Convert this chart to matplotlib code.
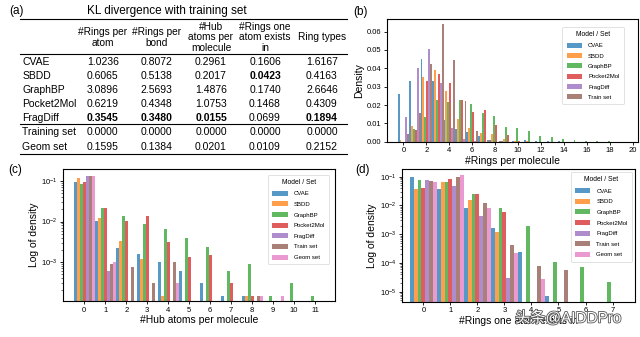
import numpy as np
import matplotlib
matplotlib.use('Agg')
import matplotlib.pyplot as plt
import matplotlib.patheffects as pe
from matplotlib.lines import Line2D
from matplotlib.patches import Patch

plt.rcParams['font.family'] = ['Liberation Sans', 'Noto Sans CJK SC', 'DejaVu Sans']

W, H = 640, 337
TICK_FS = 5.5
LABEL_FS = 7.5
LEG_FS = 4.3

# ---- (a) KL divergence table ----
table_cols = ["#Rings per\natom", "#Rings per\nbond", "#Hub\natoms per\nmolecule",
              "#Rings one\natom exists\nin", "Ring types"]
table_rows = ["CVAE", "SBDD", "GraphBP", "Pocket2Mol", "FragDiff", "Training set", "Geom set"]
table_vals = [
    ["1.0236", "0.8072", "0.2961", "0.1606", "1.6167"],
    ["0.6065", "0.5138", "0.2017", "0.0423", "0.4163"],
    ["3.0896", "2.5693", "1.4876", "0.1740", "2.6646"],
    ["0.6219", "0.4348", "1.0753", "0.1468", "0.4309"],
    ["0.3545", "0.3480", "0.0155", "0.0699", "0.1894"],
    ["0.0000", "0.0000", "0.0000", "0.0000", "0.0000"],
    ["0.1595", "0.1384", "0.0201", "0.0109", "0.2152"],
]
table_bold = [(1, 3), (4, 0), (4, 1), (4, 2), (4, 4)]

# ---- (b) #Rings per molecule ----
rings_x = np.arange(0, 21)
rings_cvae = [0.026, 0.033, 0.045, 0.033, 0.012, 0.0068, 0.0052, 0.003, 0.0008, 0.0005, 0.0003,
              0.0007, 0.0002, 0.0002, 0.0002, 0.0001, 0.0001, 0, 0, 0, 0]
rings_sbdd = [0.001, 0.0085, 0.0355, 0.039, 0.0277, 0.0125, 0.0075, 0.0045, 0.0042, 0.0015, 0.0005,
              0.0002, 0.0001, 0, 0, 0, 0, 0, 0, 0, 0]
rings_graphbp = [0.0, 0.007, 0.0135, 0.023, 0.0217, 0.0227, 0.0205, 0.0158, 0.014, 0.0078, 0.0072,
                 0.006, 0.0033, 0.0027, 0.0015, 0.0011, 0.0005, 0.0003, 0.0002, 0.0001, 0.0001]
rings_p2m = [0.0, 0.0065, 0.033, 0.037, 0.032, 0.0227, 0.016, 0.0172, 0.0093, 0.0036, 0.0005,
             0.0001, 0, 0, 0, 0, 0, 0, 0, 0, 0]
rings_fragdiff = [0.0136, 0.040, 0.0506, 0.032, 0.0075, 0.0015, 0.0005, 0.0001, 0, 0, 0,
                  0, 0, 0, 0, 0, 0, 0, 0, 0, 0]
rings_train = [0.004, 0.0155, 0.0422, 0.064, 0.0446, 0.022, 0.0058, 0.001, 0.0002, 0, 0,
               0, 0, 0, 0, 0, 0, 0, 0, 0, 0]

# ---- (c) #Hub atoms per molecule ----
hub_x = np.arange(0, 12)
hub_cvae = [0.096, 0.0104, 0.0022, 0.0016, 0.00103, 0.00059, 0.00031, 0.00015, 0.00015, 0, 0, 0]
hub_sbdd = [0.116, 0.0125, 0.0034, 0.0012, 0.00015, 0, 0, 0, 0.00015, 0, 0, 0]
hub_graphbp = [0.084, 0.0213, 0.0138, 0.0086, 0.0065, 0.0039, 0.00235, 0.00059, 0.00091,
               0.00015, 0.00031, 0.00015]
hub_p2m = [0.093, 0.0213, 0.0104, 0.0138, 0.0032, 0.00135, 0.0015, 0.00031, 0.00015, 0, 0, 0]
hub_fragdiff = [0.135, 0.00059, 0, 0, 0, 0, 0, 0, 0, 0, 0, 0]
hub_train = [0.135, 0.00089, 0.00074, 0.00031, 0.00103, 0, 0, 0, 0.00015, 0, 0, 0]
hub_geom = [0.135, 0.00103, 0, 0, 0.00031, 0, 0, 0, 0.00015, 0.00015, 0, 0]

# ---- (d) #Rings one atom exists in ----
ringatom_x = np.arange(0, 8)
ringatom_cvae = [0.095, 0.037, 0.0079, 0.0016, 0.00025, 7.2e-6, 0, 0]
ringatom_sbdd = [0.037, 0.067, 0.0155, 0.00117, 0, 0, 0, 0]
ringatom_graphbp = [0.077, 0.067, 0.025, 0.0079, 0.0019, 0.00011, 7e-5, 2.1e-5]
ringatom_p2m = [0.041, 0.083, 0.025, 0.0061, 0, 0, 0, 0]
ringatom_fragdiff = [0.077, 0.049, 0.0044, 2.9e-5, 0, 0, 0, 0]
ringatom_train = [0.073, 0.095, 0.0119, 0.00042, 8e-5, 5.7e-5, 0, 0]
ringatom_geom = [0.067, 0.115, 0.0079, 0.00023, 2.8e-5, 0, 0, 0]

names = ["CVAE", "SBDD", "GraphBP", "Pocket2Mol", "FragDiff", "Train set", "Geom set"]
COLORS = ['#1f77b4', '#ff7f0e', '#2ca02c', '#d62728', '#9467bd', '#8c564b', '#e377c2']
ALPHA = 0.75


def px_rect(left, top, right, bottom):
    return [left / W, 1 - bottom / H, (right - left) / W, (bottom - top) / H]


def ftext(x, y, s, **kw):
    kw.setdefault('ha', 'center')
    kw.setdefault('va', 'center')
    return fig.text(x / W, 1 - y / H, s, **kw)


def hline(y, x0=20, x1=347):
    fig.add_artist(Line2D([x0 / W, x1 / W], [1 - y / H, 1 - y / H],
                          transform=fig.transFigure, color='black', lw=0.8))


def dodge_bars(ax, x, series, log=False):
    n = len(series)
    w = 1.0 / n
    for i, vals in enumerate(series):
        vals = np.asarray(vals, dtype=float)
        pos = x - 0.5 + (i + 0.5) * w
        keep = vals > 0
        ax.bar(pos[keep], vals[keep], width=w, color=COLORS[i], alpha=ALPHA,
               linewidth=0, log=log)


def add_legend(ax, n, bbox, spacing):
    handles = [Patch(facecolor=COLORS[i], alpha=ALPHA, edgecolor='none') for i in range(n)]
    leg = ax.legend(handles, names[:n], title="Model / Set", loc='upper right',
                    bbox_to_anchor=bbox, fontsize=LEG_FS, title_fontsize=LEG_FS + 0.6,
                    handlelength=2.6, handleheight=0.9, labelspacing=spacing,
                    borderpad=0.7, handletextpad=1.0, frameon=True, fancybox=True)
    leg.get_frame().set_linewidth(0.5)
    return leg


def style_axes(ax):
    ax.tick_params(labelsize=TICK_FS, length=2.5, width=0.6, pad=1.5)
    ax.tick_params(which='minor', length=1.5, width=0.4)
    for s in ax.spines.values():
        s.set_linewidth(0.8)


fig = plt.figure(figsize=(W / 100, H / 100), dpi=100)

# (a) table
ftext(16, 11, "(a)", fontsize=8.5)
ftext(167, 11, "KL divergence with training set", fontsize=8.5)
hline(19.3)
hline(54.3)
hline(124)
hline(154)
col_x = [102.7, 156.7, 211, 265, 322]
for cx, head in zip(col_x, table_cols):
    ftext(cx, 37.5, head, fontsize=7.3, linespacing=1.1, multialignment='center')
row_y = [62, 76, 90, 104, 118.3, 132.3, 146.7]
for r, (name, ry) in enumerate(zip(table_rows, row_y)):
    ftext(22.5, ry, name, fontsize=7.5, ha='left')
    for c, cx in enumerate(col_x):
        weight = 'bold' if (r, c) in table_bold else 'normal'
        ftext(cx, ry, table_vals[r][c], fontsize=7.5, fontweight=weight)

# (b)
ax_b = fig.add_axes(px_rect(386.7, 19, 638, 141.7))
dodge_bars(ax_b, rings_x, [rings_cvae, rings_sbdd, rings_graphbp, rings_p2m,
                           rings_fragdiff, rings_train])
ax_b.set_xlim(-1.45, 20.45)
ax_b.set_ylim(0, 0.0669)
ax_b.set_xticks(np.arange(0, 21, 2))
ax_b.set_yticks(np.arange(0, 0.061, 0.01))
ax_b.set_yticklabels(["%.2f" % v for v in np.arange(0, 0.061, 0.01)])
ax_b.set_xlabel("#Rings per molecule", fontsize=LABEL_FS, labelpad=1)
ax_b.set_ylabel("Density", fontsize=LABEL_FS, labelpad=2)
style_axes(ax_b)
add_legend(ax_b, 6, (0.955, 0.96), 0.8)
ftext(361, 12.5, "(b)", fontsize=8.5)

# (c)
ax_c = fig.add_axes(px_rect(63.3, 169, 335, 301))
dodge_bars(ax_c, hub_x, [hub_cvae, hub_sbdd, hub_graphbp, hub_p2m, hub_fragdiff,
                         hub_train, hub_geom], log=True)
ax_c.set_yscale('log')
ax_c.set_xlim(-1.0, 11.95)
ax_c.set_ylim(1.1e-4, 0.197)
ax_c.set_xticks(hub_x)
ax_c.set_xlabel("#Hub atoms per molecule", fontsize=LABEL_FS, labelpad=1)
ax_c.set_ylabel("Log of density", fontsize=LABEL_FS, labelpad=2)
style_axes(ax_c)
add_legend(ax_c, 7, (0.99, 0.98), 0.85)
ftext(15, 170, "(c)", fontsize=8.5)

# (d)
ax_d = fig.add_axes(px_rect(401.7, 169, 635, 301.7))
dodge_bars(ax_d, ringatom_x, [ringatom_cvae, ringatom_sbdd, ringatom_graphbp, ringatom_p2m,
                              ringatom_fragdiff, ringatom_train, ringatom_geom], log=True)
ax_d.set_yscale('log')
ax_d.set_xlim(-0.8, 7.83)
ax_d.set_ylim(4.5e-6, 0.185)
ax_d.set_xticks(ringatom_x)
ax_d.set_xlabel("#Rings one atom exists in", fontsize=LABEL_FS, labelpad=1)
ax_d.set_ylabel("Log of density", fontsize=LABEL_FS, labelpad=2)
style_axes(ax_d)
add_legend(ax_d, 7, (1.0, 1.0), 0.85)
ftext(362, 170, "(d)", fontsize=8.5)

# watermark
wm = ftext(568, 318, "头条@AIDDPro", fontsize=11, color='white')
wm.set_path_effects([pe.withStroke(linewidth=1.2, foreground='#555555')])

fig.savefig("out.png", dpi=100)
